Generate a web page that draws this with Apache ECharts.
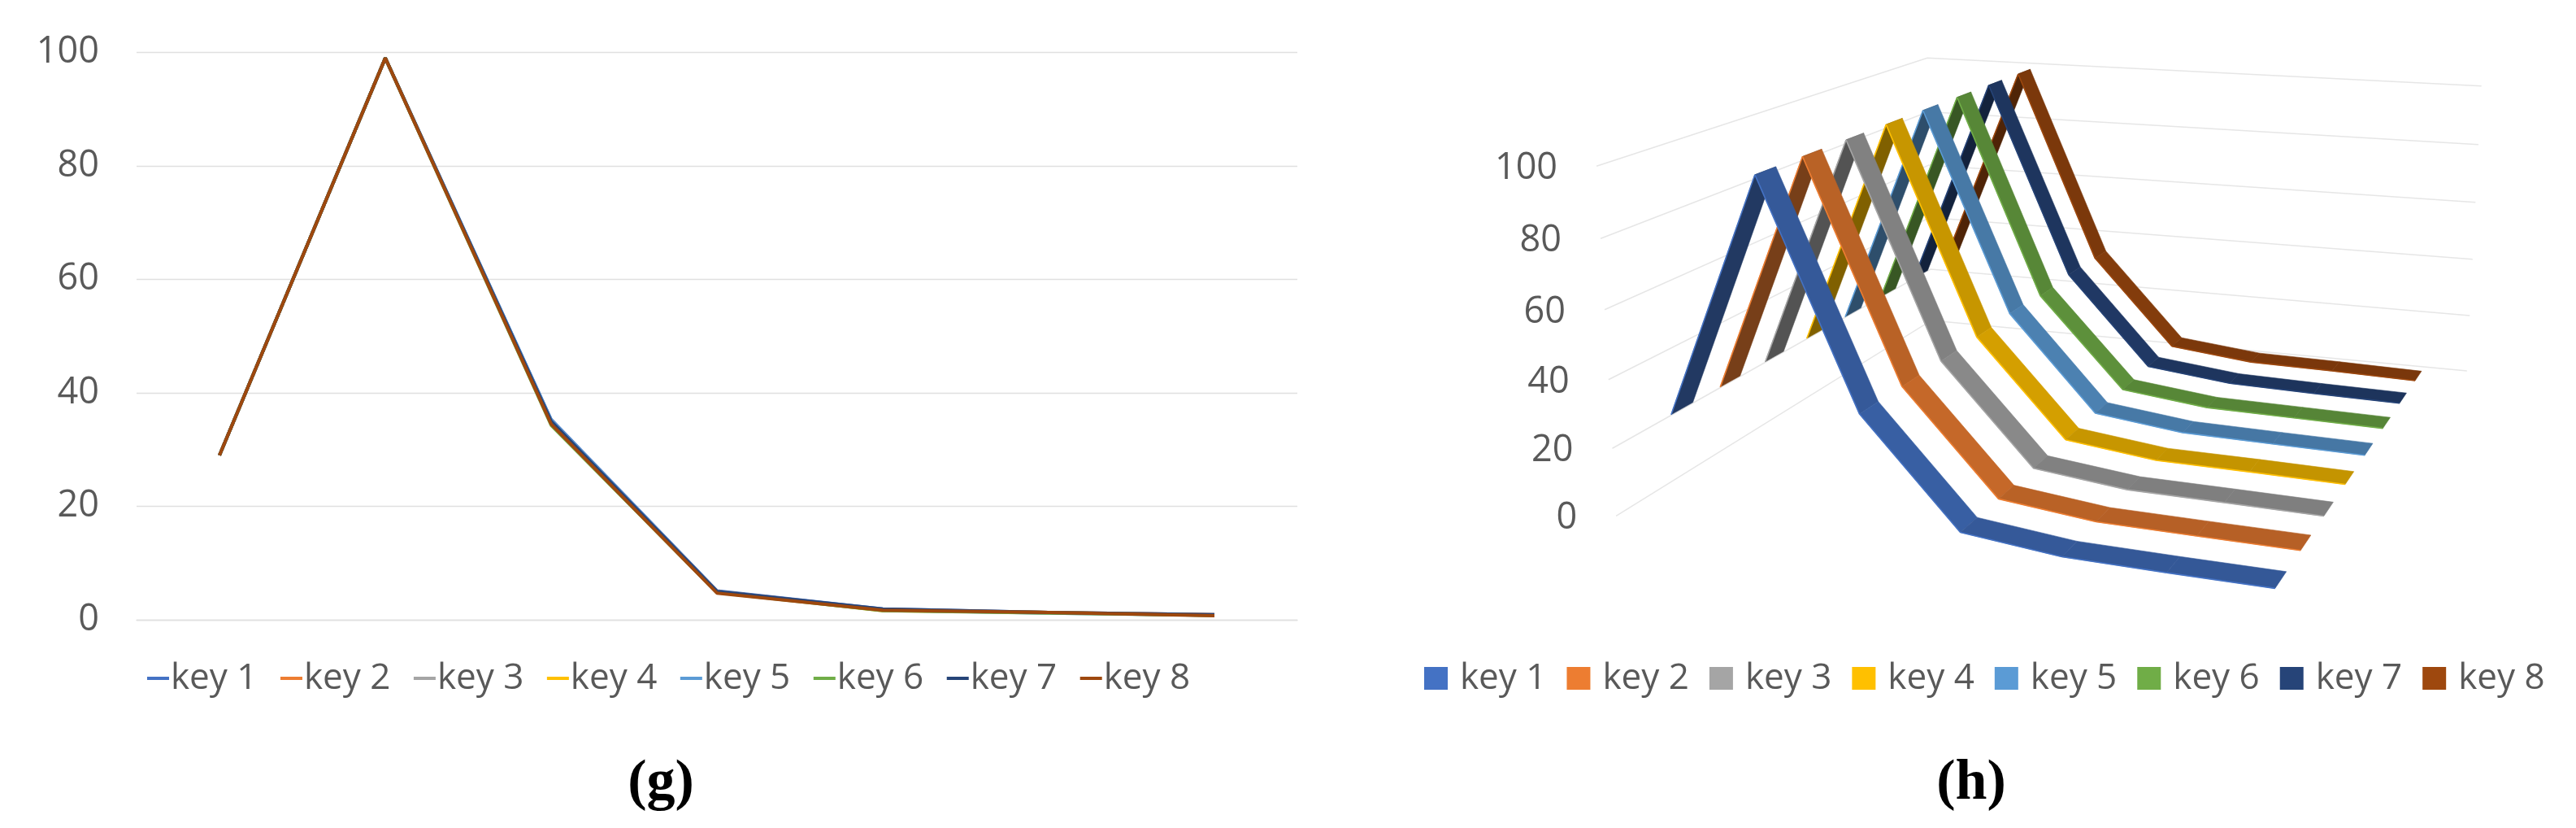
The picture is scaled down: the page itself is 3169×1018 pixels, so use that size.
<!DOCTYPE html>
<html><head><meta charset="utf-8"><style>html,body{margin:0;background:#fff}#c{width:3169px;height:1018px}</style>
<script src="https://cdn.jsdelivr.net/npm/echarts@6/dist/echarts.min.js"></script></head><body><div id="c"></div>
<script>
const categories = ['1','2','3','4','5','6','7'];
const tickValues = [0,20,40,60,80,100];
const seriesNames = ['key 1','key 2','key 3','key 4','key 5','key 6','key 7','key 8'];
const colors = ['#4472C4','#ED7D31','#A5A5A5','#FFC000','#5B9BD5','#70AD47','#264478','#9E480E'];
const key1 = [29,99,35.3,5.1,1.9,1.3,0.9];
const key2 = [29,99,35.0,5.0,1.8,1.3,0.9];
const key3 = [29,99,34.8,4.9,1.7,1.3,0.8];
const key4 = [29,99,34.8,4.9,1.6,1.3,0.8];
const key5 = [29,99,35.2,5.0,1.7,1.2,0.8];
const key6 = [29,99,34.3,4.8,1.6,1.2,0.8];
const key7 = [29,99,35.0,5.0,1.9,1.3,0.9];
const key8 = [29,99,34.5,4.7,1.7,1.3,0.7];
const allKeys = [key1,key2,key3,key4,key5,key6,key7,key8];
const captions = ['(g)','(h)'];

/* projective camera of the 3D panel (u: category span, v: value span, w: depth span) */
const cam = [0.55282,-0.10736,1.22133,1.98814,0.03318,-0.43880,-0.10215,0.63433,-0.11108,-0.04242,0.35080];
function proj(u,v,w){
  const d = cam[8]*u+cam[9]*v+cam[10]*w+1;
  return [1000*(cam[0]*u+cam[1]*v+cam[2]*w+cam[3])/d, 1000*(cam[4]*u+cam[5]*v+cam[6]*w+cam[7])/d];
}
const segShade = [0.5,0.78,0.83,0.78,0.77,0.77];
function shade(hex,f){
  const n=parseInt(hex.slice(1),16);
  return 'rgb('+[(n>>16)&255,(n>>8)&255,n&255].map(c=>Math.round(c*f)).join(',')+')';
}
const RIBBON = 0.215;
const txt = '#595959', FONT = '"Open Sans"';

function ribbonRender(k){
  const wf=(k+0.5-RIBBON)/8, wb=(k+0.5+RIBBON)/8;
  return function(params,api){
    const i=api.value(0), val=api.value(1), next=api.value(2);
    if(isNaN(next)) return null;
    const cs=params.coordSys;
    const norm=p=>[(p[0]-cs.x)/cs.width,(cs.y+cs.height-p[1])/cs.height];
    const a=norm(api.coord([i,val])), b=norm(api.coord([i+1,next]));
    const f0=proj(a[0],a[1],wf), b0=proj(a[0],a[1],wb), f1=proj(b[0],b[1],wf), b1=proj(b[0],b[1],wb);
    return {type:'group',children:[
      {type:'polygon',shape:{points:[f0,b0,b1,f1]},style:{fill:shade(colors[k],segShade[i]),stroke:shade(colors[k],segShade[i]),lineWidth:0.6}},
      {type:'polyline',shape:{points:[f0,f1]},style:{stroke:colors[k],lineWidth:1.6,fill:null}}
    ]};
  };
}
function wallRender(params,api){
  const cs=params.coordSys, val=api.value(1);
  const p=api.coord([0,val]);
  const v=(cs.y+cs.height-p[1])/cs.height;
  const A=proj(0,v,0),B=proj(0,v,1),C=proj(1,v,1);
  return {type:'group',children:[
    {type:'polyline',shape:{points:[A,B,C]},style:{stroke:'#e6e6e6',lineWidth:1.5,fill:null}},
    {type:'text',style:{text:String(val),x:A[0]-48,y:A[1]+3,align:'right',verticalAlign:'middle',fill:txt,font:'45px '+FONT}}
  ]};
}

const series=[];
allKeys.forEach((arr,k)=>series.push({type:'line',name:seriesNames[k],data:arr,xAxisIndex:0,yAxisIndex:0,symbol:'none',
  lineStyle:{color:colors[k],width:4},itemStyle:{color:colors[k]},silent:true}));
series.push({type:'custom',xAxisIndex:1,yAxisIndex:1,silent:true,clip:false,encode:{x:0,y:1},
  data:tickValues.map(t=>[0,t]),renderItem:wallRender});
for(let k=7;k>=0;k--){
  series.push({type:'custom',name:seriesNames[k],xAxisIndex:1,yAxisIndex:1,silent:true,clip:false,encode:{x:0,y:1},
    itemStyle:{color:colors[k]},
    data:allKeys[k].map((v,i)=>[i,v,i<allKeys[k].length-1?allKeys[k][i+1]:NaN]),renderItem:ribbonRender(k)});
}

const option={
  animation:false,backgroundColor:'#fff',
  title:[
    {text:captions[0],left:808,top:924,textAlign:'center',textStyle:{fontFamily:'"Liberation Serif"',fontWeight:'bold',fontSize:70,color:'#000'}},
    {text:captions[1],left:2420,top:924,textAlign:'center',textStyle:{fontFamily:'"Liberation Serif"',fontWeight:'bold',fontSize:70,color:'#000'}}
  ],
  legend:[
    {left:181,top:812,padding:0,itemWidth:27,itemHeight:4,itemGap:28.5,icon:'rect',selectedMode:false,
     textStyle:{fontFamily:FONT,fontSize:44,color:txt,padding:[0,0,0,-3]},
     data:seriesNames.map((n,k)=>({name:n,itemStyle:{color:colors[k]}}))},
    {left:1752,top:812,padding:0,itemWidth:29,itemHeight:28,itemGap:25,icon:'rect',selectedMode:false,
     textStyle:{fontFamily:FONT,fontSize:44,color:txt,padding:[0,0,0,10]},
     data:seriesNames.map((n,k)=>({name:n,itemStyle:{color:colors[k]}}))}
  ],
  grid:[
    {left:168,top:64.4,width:1428,height:697.6},
    {left:2000,top:100,width:700,height:500}
  ],
  xAxis:[
    {type:'category',gridIndex:0,data:categories,boundaryGap:true,axisTick:{show:false},axisLabel:{show:false},axisLine:{lineStyle:{color:'#e0e0e0',width:1.4}}},
    {type:'category',gridIndex:1,data:categories,boundaryGap:true,show:false}
  ],
  yAxis:[
    {type:'value',gridIndex:0,min:0,max:100,interval:20,axisLine:{show:false},axisTick:{show:false},
     axisLabel:{fontFamily:FONT,fontSize:45,color:txt,margin:46},splitLine:{lineStyle:{color:'#e0e0e0',width:1.4}}},
    {type:'value',gridIndex:1,min:0,max:100,interval:20,show:false}
  ],
  series
};
echarts.init(document.getElementById('c'),null,{renderer:'canvas'}).setOption(option);
</script></body></html>
